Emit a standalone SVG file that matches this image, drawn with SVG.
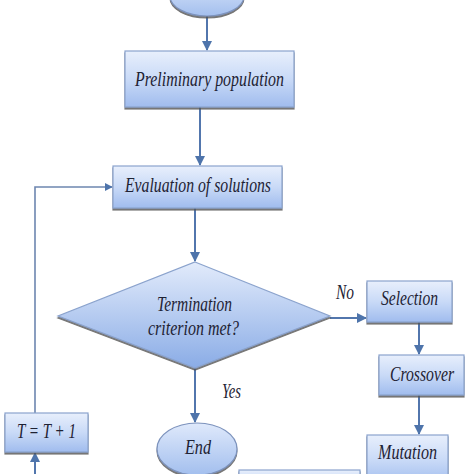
<svg xmlns="http://www.w3.org/2000/svg" width="474" height="474" viewBox="0 0 474 474">
<defs>
<linearGradient id="gBox" x1="0" y1="0" x2="0" y2="1">
<stop offset="0" stop-color="#e8effc"/>
<stop offset="0.5" stop-color="#c9daf7"/>
<stop offset="1" stop-color="#a0bcee"/>
</linearGradient>
<linearGradient id="gDia" x1="0" y1="0" x2="0" y2="1">
<stop offset="0" stop-color="#e2ebfb"/>
<stop offset="1" stop-color="#8aacE6"/>
</linearGradient>
<linearGradient id="gEll" x1="0" y1="0" x2="0" y2="1">
<stop offset="0" stop-color="#dfe9fb"/>
<stop offset="1" stop-color="#a3bfee"/>
</linearGradient>
<marker id="arr" viewBox="0 0 10 10" refX="9" refY="5" markerWidth="5" markerHeight="5" orient="auto">
<path d="M0,0 L10,5 L0,10 z" fill="#4e74ab"/>
</marker>
<filter id="sh" x="-5%" y="-5%" width="110%" height="120%">
<feDropShadow dx="0" dy="2" stdDeviation="0.6" flood-color="#555" flood-opacity="0.8"/>
</filter>
</defs>
<style>
.box{fill:url(#gBox);stroke:#8ba3cd;stroke-width:1.2;filter:url(#sh)}
.dia{fill:url(#gDia);stroke:#8ba3cd;stroke-width:1.2;filter:url(#sh)}
.ell{fill:url(#gEll);stroke:#7d93bd;stroke-width:1.2;filter:url(#sh)}
.t{font-family:"Liberation Serif","Times New Roman",serif;font-style:italic;font-size:20px;fill:#1e2233;text-anchor:middle}
.c{fill:none;stroke:#5276ad;stroke-width:2}
.cl{fill:none;stroke:#6d86b0;stroke-width:1.6}
</style>
<g id="connectors">
<line class="c" x1="207" y1="16" x2="207" y2="50" marker-end="url(#arr)"/>
<line class="c" x1="200" y1="107" x2="200" y2="165" marker-end="url(#arr)"/>
<line class="c" x1="195" y1="208" x2="195" y2="261" marker-end="url(#arr)"/>
<line class="c" x1="330" y1="318" x2="366" y2="318" marker-end="url(#arr)"/>
<line class="c" x1="419" y1="322" x2="419" y2="354" marker-end="url(#arr)"/>
<line class="c" x1="419" y1="395" x2="419" y2="434" marker-end="url(#arr)"/>
<line class="c" x1="195" y1="368" x2="195" y2="422" marker-end="url(#arr)"/>
<polyline class="cl" points="35,413 35,187 112,187" marker-end="url(#arr)"/>
<line class="c" x1="35" y1="474" x2="35" y2="453" marker-end="url(#arr)"/>
<text class="t" x="345" y="299" textLength="18" lengthAdjust="spacingAndGlyphs">No</text>
<text class="t" x="231.5" y="398" textLength="19" lengthAdjust="spacingAndGlyphs">Yes</text>
</g>
<g id="start">
<ellipse class="ell" cx="207" cy="-4" rx="37" ry="20"/>
</g>
<g id="preliminary">
<rect class="box" x="125" y="51" width="169" height="56"/>
<text class="t" x="209.5" y="86" textLength="149" lengthAdjust="spacingAndGlyphs">Preliminary population</text>
</g>
<g id="evaluation">
<rect class="box" x="113" y="166" width="169" height="42"/>
<text class="t" x="198" y="192" textLength="146" lengthAdjust="spacingAndGlyphs">Evaluation of solutions</text>
</g>
<g id="termination">
<polygon class="dia" points="195,262 330,316 195,368 58,316"/>
<text class="t" x="194.5" y="311" textLength="75" lengthAdjust="spacingAndGlyphs">Termination</text>
<text class="t" x="193.5" y="335" textLength="91" lengthAdjust="spacingAndGlyphs">criterion met?</text>
</g>
<g id="selection">
<rect class="box" x="367" y="281" width="85" height="41"/>
<text class="t" x="409.5" y="305" textLength="57" lengthAdjust="spacingAndGlyphs">Selection</text>
</g>
<g id="crossover">
<rect class="box" x="379" y="355" width="85" height="40"/>
<text class="t" x="422" y="381" textLength="64" lengthAdjust="spacingAndGlyphs">Crossover</text>
</g>
<g id="mutation">
<rect class="box" x="367" y="435" width="81" height="50"/>
<text class="t" x="407.5" y="459" textLength="59" lengthAdjust="spacingAndGlyphs">Mutation</text>
</g>
<g id="end">
<ellipse class="ell" cx="197" cy="449" rx="40" ry="26"/>
<text class="t" x="198" y="454" textLength="26" lengthAdjust="spacingAndGlyphs">End</text>
</g>
<g id="increment">
<rect class="box" x="5" y="413" width="83" height="39"/>
<text class="t" x="46.5" y="438" textLength="59" lengthAdjust="spacingAndGlyphs">T = T + 1</text>
</g>
<g id="bottom-box">
<rect class="box" x="239" y="470" width="121" height="20"/>
</g>
</svg>
